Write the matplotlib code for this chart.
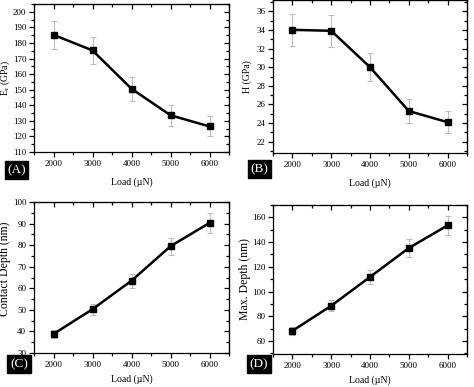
import matplotlib
matplotlib.use('Agg')
import matplotlib.pyplot as plt
from matplotlib.ticker import MultipleLocator

plt.rcParams['font.family'] = ['Liberation Serif', 'DejaVu Serif']
plt.rcParams['mathtext.fontset'] = 'custom'
plt.rcParams['mathtext.rm'] = 'Liberation Serif'
plt.rcParams['mathtext.it'] = 'Liberation Serif:italic'

# data
loads = [2000, 3000, 4000, 5000, 6000]
er_vals = [185.2, 175.2, 150.6, 133.6, 126.4]
er_err = [9.2, 8.8, 7.6, 6.8, 6.4]
h_vals = [34.0, 33.9, 30.0, 25.3, 24.1]
h_err = [1.7, 1.7, 1.5, 1.3, 1.2]
cd_vals = [38.8, 50.3, 63.5, 79.5, 90.3]
cd_err = [2.0, 2.5, 3.2, 4.0, 4.7]
md_vals = [68.2, 88.5, 111.8, 135.2, 153.5]
md_err = [3.4, 4.5, 5.8, 7.0, 7.8]

W, H = 474, 387
fig = plt.figure(figsize=(W / 100, H / 100), dpi=100)


def px_axes(x0, x1, y0, y1):
    # pixel box (top-left origin) -> figure fraction
    return fig.add_axes([x0 / W, 1 - y1 / H, (x1 - x0) / W, (y1 - y0) / H])


panels = [
    dict(box=(34, 229, 4, 152), y=er_vals, e=er_err, ylim=(110, 205), major=10, minor=5,
         ylabel='E$_\\mathrm{r}$ (GPa)', ysize=7, tag='(A)', tagpos=(16.5, 170),
         ylx=12, yly=0.5, xpad=7),
    dict(box=(273, 467, 0, 153), y=h_vals, e=h_err, ylim=(20.8, 37.2), major=2, minor=1,
         ylabel='H (GPa)', ysize=7, tag='(B)', tagpos=(259.5, 169),
         ylx=252, yly=0.5, xpad=7),
    dict(box=(34, 229, 202, 353), y=cd_vals, e=cd_err, ylim=(30, 100), major=10, minor=5,
         ylabel='Contact Depth (nm)', ysize=8.5, tag='(C)', tagpos=(19, 364),
         ylx=11, yly=0.56, xpad=4.5),
    dict(box=(273, 467, 205, 354), y=md_vals, e=md_err, ylim=(49.5, 170), major=20, minor=10,
         ylabel='Max. Depth (nm)', ysize=8.5, tag='(D)', tagpos=(259, 364),
         ylx=251, yly=0.5, xpad=4.5),
]

for p in panels:
    x0, x1, y0, y1 = p['box']
    ax = px_axes(x0, x1, y0, y1)
    ax.errorbar(loads, p['y'], yerr=p['e'], fmt='none', ecolor='#bdbdbd',
                elinewidth=0.8, capsize=2, capthick=0.8, zorder=2)
    ax.plot(loads, p['y'], color='black', lw=1.8, marker='s', ms=4.5, zorder=3)
    ax.set_xlim(1500, 6500)
    ax.set_ylim(*p['ylim'])
    ax.xaxis.set_major_locator(MultipleLocator(1000))
    ax.xaxis.set_minor_locator(MultipleLocator(500))
    ax.yaxis.set_major_locator(MultipleLocator(p['major']))
    ax.yaxis.set_minor_locator(MultipleLocator(p['minor']))
    ax.tick_params(which='both', direction='out', labelsize=6.5, width=0.9, pad=2)
    ax.tick_params(which='major', length=3.5)
    ax.tick_params(which='minor', length=2)
    for s in ax.spines.values():
        s.set_linewidth(0.9)

    # inward ticks on top and right
    top = ax.secondary_xaxis('top')
    top.xaxis.set_major_locator(MultipleLocator(1000))
    top.xaxis.set_minor_locator(MultipleLocator(500))
    top.tick_params(which='both', direction='in', labeltop=False, width=0.9)
    top.tick_params(which='major', length=3.5)
    top.tick_params(which='minor', length=2)
    right = ax.secondary_yaxis('right')
    right.yaxis.set_major_locator(MultipleLocator(p['major']))
    right.yaxis.set_minor_locator(MultipleLocator(p['minor']))
    right.tick_params(which='both', direction='in', labelright=False, width=0.9)
    right.tick_params(which='major', length=3.5)
    right.tick_params(which='minor', length=2)

    ax.set_xlabel('Load (µN)', fontsize=7, labelpad=p['xpad'])
    ax.set_ylabel(p['ylabel'], fontsize=p['ysize'])
    ax.yaxis.set_label_coords((p['ylx'] - x0) / (x1 - x0), p['yly'])

    tx, ty = p['tagpos']
    fig.text(tx / W, 1 - ty / H, p['tag'], color='white', fontsize=9.5,
             ha='center', va='center',
             bbox=dict(boxstyle='square,pad=0.2', fc='black', ec='black'))

fig.savefig('out.png', dpi=100)
